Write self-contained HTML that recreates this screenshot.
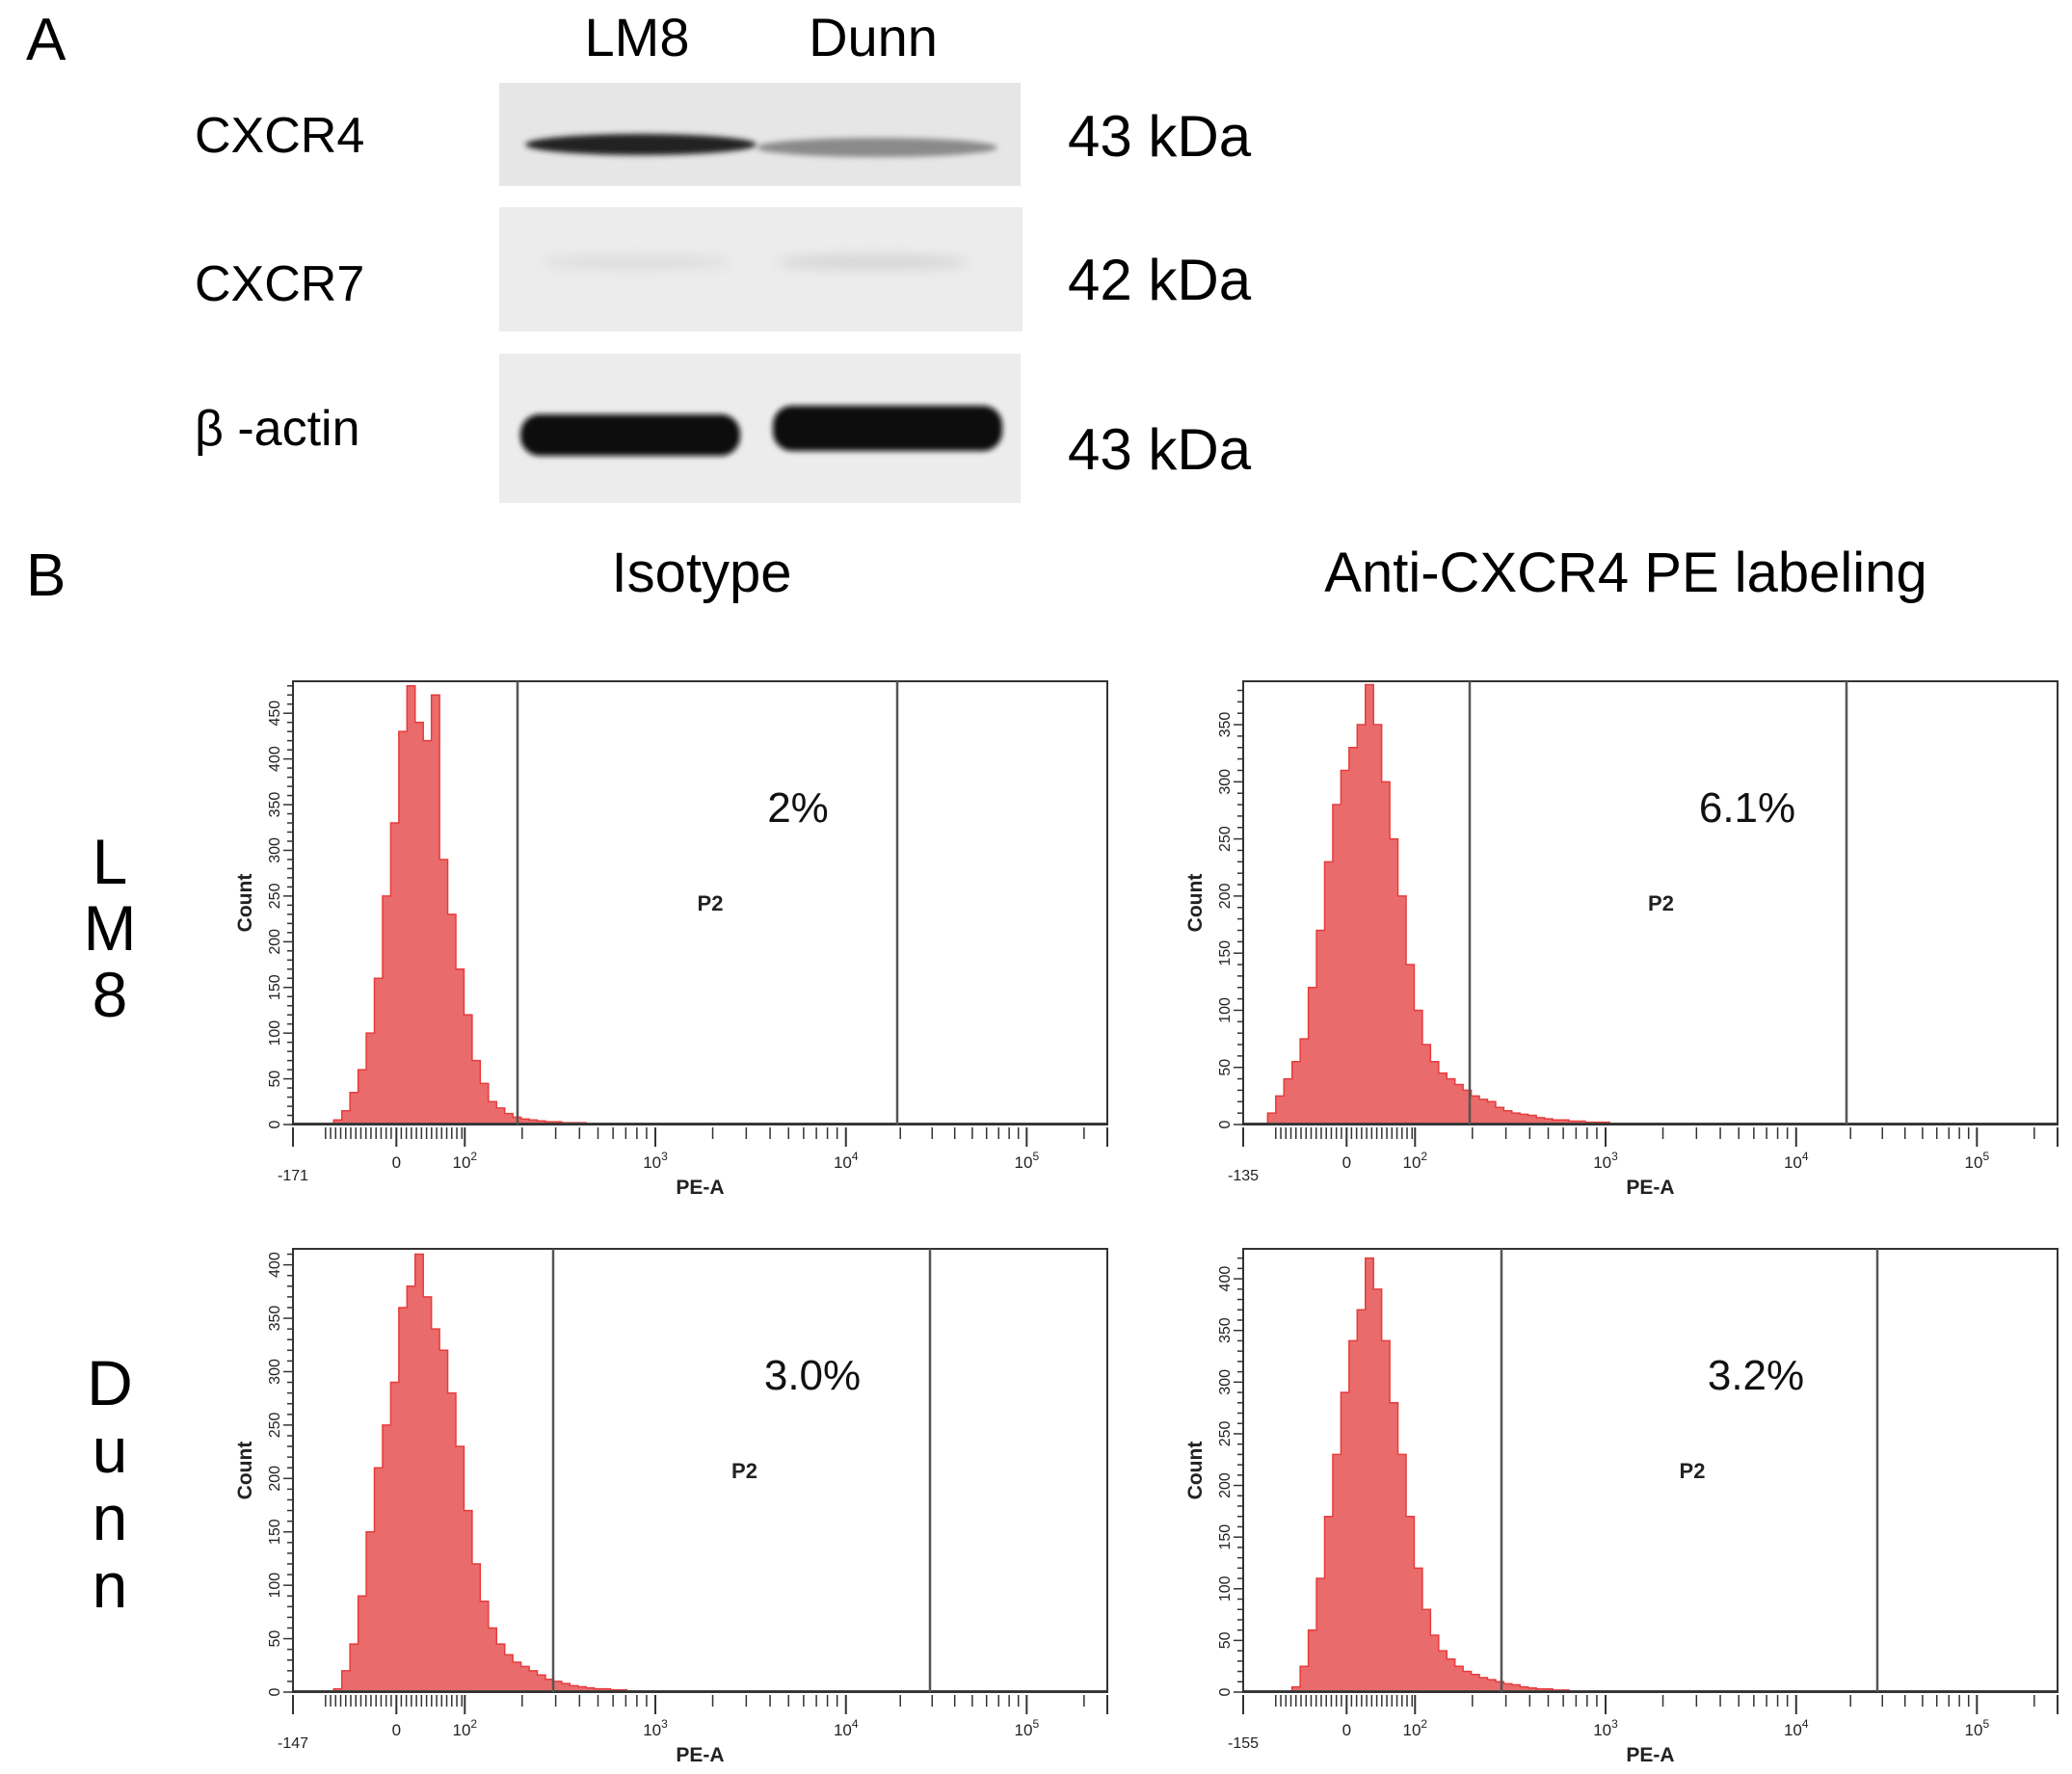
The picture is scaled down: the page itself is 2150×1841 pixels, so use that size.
<!DOCTYPE html>
<html><head><meta charset="utf-8">
<style>
html,body{margin:0;padding:0;background:#fff;}
svg{display:block;font-family:"Liberation Sans",sans-serif;}
</style></head>
<body>
<svg id="fig" width="2150" height="1841" viewBox="0 0 2150 1841" xmlns="http://www.w3.org/2000/svg">
<defs>
<filter id="blur3" x="-20%" y="-50%" width="140%" height="200%"><feGaussianBlur stdDeviation="3"/></filter>
<filter id="blur6" x="-20%" y="-80%" width="140%" height="260%"><feGaussianBlur stdDeviation="6"/></filter>
</defs>
<!-- Panel A -->
<text x="27" y="62" font-size="62">A</text>
<text x="661" y="58" font-size="56" text-anchor="middle">LM8</text>
<text x="906" y="58" font-size="56" text-anchor="middle">Dunn</text>

<text x="202" y="158" font-size="52">CXCR4</text>
<text x="202" y="312" font-size="52">CXCR7</text>
<text x="202" y="462" font-size="52">β -actin</text>

<text x="1108" y="162" font-size="60">43 kDa</text>
<text x="1108" y="311" font-size="60">42 kDa</text>
<text x="1108" y="487" font-size="60">43 kDa</text>

<g>
<rect x="518" y="86" width="541" height="107" fill="#e6e6e6"/>
<ellipse cx="665" cy="150" rx="120" ry="11" fill="#222" filter="url(#blur3)"/>
<ellipse cx="910" cy="153" rx="125" ry="10" fill="#8a8a8a" filter="url(#blur3)"/>
</g>
<g>
<rect x="518" y="215" width="543" height="129" fill="#ececec"/>
<ellipse cx="660" cy="272" rx="100" ry="8" fill="#dedede" filter="url(#blur6)"/>
<ellipse cx="905" cy="272" rx="100" ry="8" fill="#d6d6d6" filter="url(#blur6)"/>
</g>
<g>
<rect x="518" y="367" width="541" height="155" fill="#ececec"/>
<rect x="540" y="430" width="228" height="43" rx="20" fill="#080808" filter="url(#blur3)"/>
<rect x="802" y="421" width="238" height="47" rx="20" fill="#080808" filter="url(#blur3)"/>
</g>

<!-- Panel B -->
<text x="27" y="618" font-size="62">B</text>
<text x="728" y="614" font-size="58" text-anchor="middle">Isotype</text>
<text x="1687" y="614" font-size="58" text-anchor="middle">Anti-CXCR4 PE labeling</text>

<g font-size="66" text-anchor="middle">
<text x="114" y="917">L</text><text x="114" y="986">M</text><text x="114" y="1055">8</text>
</g>
<g font-size="66" text-anchor="middle">
<text x="114" y="1458">D</text><text x="114" y="1528">u</text><text x="114" y="1598">n</text><text x="114" y="1668">n</text>
</g>
<g id="panels"></g>
</svg>
<script>
// Histogram bin counts (100 bins across the display axis; bins not listed are zero)
const countsLM8Iso = [0,0,0,1,0,5,15,35,60,100,160,250,330,430,480,440,420,470,290,230,170,120,70,45,25,18,12,8,6,5,4,3,3,2,2,2,1,1,1,1,1,1,0,1,0,0,1,0,0,0];
const countsLM8Anti = [0,0,0,10,25,40,55,75,120,170,230,280,310,330,350,385,350,300,250,200,140,100,70,55,45,40,35,30,25,22,20,15,12,10,9,8,6,5,4,4,3,3,2,2,2,1,1,1,0,0];
const countsDunnIso = [0,0,0,0,0,3,20,45,90,150,210,250,290,360,380,410,370,340,320,280,230,170,120,85,60,45,35,28,24,20,16,12,10,8,6,5,4,3,3,2,2,1,1,1,1,0,0,0,0,0];
const countsDunnAnti = [0,0,0,0,0,0,5,25,60,110,170,230,290,340,370,420,390,340,280,230,170,120,80,55,40,32,25,20,17,14,12,10,8,7,5,4,3,3,2,2,1,1,1,0,0,0,0,0,0,0];
// Y axis domain maxima and tick labels
const yMaxes = [485, 388, 415, 429];
const yTicks1 = [0,50,100,150,200,250,300,350,400,450];
const yTicks2 = [0,50,100,150,200,250,300,350];
const yTicks3 = [0,50,100,150,200,250,300,350,400];
const yTicks4 = [0,50,100,150,200,250,300,350,400];
// X axis labels
const xTickLabels = ["0","10","10","10","10"];
const xTickExps = ["","2","3","4","5"];
const xMinLabels = ["-171","-135","-147","-155"];
const percents = ["2%","6.1%","3.0%","3.2%"];

const NS="http://www.w3.org/2000/svg";
const root=document.getElementById('panels');
function mk(tag,attrs,parent){const e=document.createElementNS(NS,tag);for(const k in attrs)e.setAttribute(k,attrs[k]);parent.appendChild(e);return e;}

const layout=[
 {x:304,y:707,gate:[537,931],pcx:828},
 {x:1290,y:707,gate:[1525,1916],pcx:1813},
 {x:304,y:1296,gate:[574,965],pcx:843},
 {x:1290,y:1296,gate:[1558,1948],pcx:1822}
];
const W=845,H=460,NB=100;
const allCounts=[countsLM8Iso,countsLM8Anti,countsDunnIso,countsDunnAnti];
const allTicks=[yTicks1,yTicks2,yTicks3,yTicks4];
const names=['lm8-isotype','lm8-anti-cxcr4','dunn-isotype','dunn-anti-cxcr4'];
const decadeFrac=[0.127,0.211,0.445,0.679,0.901];

layout.forEach((L,p)=>{
  const g=mk('g',{},root);
  
  
  const xS=i=>L.x+i/NB*W;
  const yS=c=>L.y+H-c/yMaxes[p]*H;
  const counts=allCounts[p];
  let d='M'+xS(0)+' '+yS(0);
  counts.forEach((c,i)=>{d+=' L'+xS(i)+' '+yS(c)+' L'+xS(i+1)+' '+yS(c);});
  d+=' L'+xS(counts.length)+' '+yS(0)+' Z';
  const h=mk('path',{d:d,fill:'#ea6b6b',stroke:'#e63c3c','stroke-width':1.5},g);
  
  
  mk('line',{x1:L.x,y1:L.y+H-1,x2:L.x+W,y2:L.y+H-1,stroke:'#444','stroke-width':2},g);
  const fr=mk('rect',{x:L.x,y:L.y,width:W,height:H,fill:'none',stroke:'#333','stroke-width':2},g);
  
  
  L.gate.forEach(gx=>{mk('line',{x1:gx,y1:L.y,x2:gx,y2:L.y+H,stroke:'#555','stroke-width':2.5},g);});
  const gate=mk('rect',{x:L.gate[0],y:L.y,width:L.gate[1]-L.gate[0],height:H,fill:'none',stroke:'none'},g);
  
  
  const p2=mk('text',{x:(L.gate[0]+L.gate[1])/2+3,y:L.y+238,'font-size':22,'font-weight':'bold','text-anchor':'middle',fill:'#222'},g);
  p2.textContent='P2';
  
  
  const pc=mk('text',{x:L.pcx,y:L.y+146,'font-size':44,'text-anchor':'middle',fill:'#111'},g);
  pc.textContent=percents[p];
  
  
  for(let v=0;v<=yMaxes[p];v+=10){
    const major=v%50===0;
    mk('line',{x1:L.x-(major?10:6),y1:yS(v),x2:L.x,y2:yS(v),stroke:'#333','stroke-width':1.5},g);
  }
  allTicks[p].forEach(v=>{
    const t=mk('text',{x:0,y:0,'font-size':16,'text-anchor':'middle',fill:'#222',transform:'translate('+(L.x-14)+','+yS(v)+') rotate(-90)'},g);
    t.textContent=v;
    
    
  });
  const yt=mk('text',{x:0,y:0,'font-size':21,'font-weight':'bold','text-anchor':'middle',fill:'#222',transform:'translate('+(L.x-43)+','+(L.y+230)+') rotate(-90)'},g);
  yt.textContent='Count';
  
  
  const by=L.y+H+3;
  for(let i=0;i<28;i++){const fx=0.04+i*0.0062;if(Math.abs(fx-0.127)<0.003)continue;mk('line',{x1:L.x+fx*W,y1:by,x2:L.x+fx*W,y2:by+12,stroke:'#333','stroke-width':1.5},g);}
  [0.445,0.679,0.901].forEach((f,k)=>{const prev=decadeFrac[k+1];
    [0.301,0.477,0.602,0.699,0.778,0.845,0.903,0.954].forEach(m=>{const fx=prev+m*(f-prev);mk('line',{x1:L.x+fx*W,y1:by,x2:L.x+fx*W,y2:by+12,stroke:'#333','stroke-width':1.5},g);});});
  [0.301,0.477,0.602,0.699,0.778].forEach(m=>{const fx=0.901+m*(0.234);if(fx<0.99)mk('line',{x1:L.x+fx*W,y1:by,x2:L.x+fx*W,y2:by+12,stroke:'#333','stroke-width':1.5},g);});
  decadeFrac.forEach((f,k)=>{mk('line',{x1:L.x+f*W,y1:by,x2:L.x+f*W,y2:by+20,stroke:'#333','stroke-width':2},g);
    const t=mk('text',{x:L.x+f*W,y:by+42,'font-size':17,'text-anchor':'middle',fill:'#222'},g);
    t.textContent=xTickLabels[k];
    if(xTickExps[k]){const s=mk('tspan',{dy:-8,'font-size':12},t);s.textContent=xTickExps[k];}
    
    });
  mk('line',{x1:L.x,y1:by,x2:L.x,y2:by+20,stroke:'#333','stroke-width':2},g);
  mk('line',{x1:L.x+W,y1:by,x2:L.x+W,y2:by+20,stroke:'#333','stroke-width':2},g);
  const mn=mk('text',{x:L.x,y:by+55,'font-size':16,'text-anchor':'middle',fill:'#222'},g);
  mn.textContent=xMinLabels[p];
  
  
  const xt=mk('text',{x:L.x+W*0.5,y:L.y+H+72,'font-size':21,'font-weight':'bold','text-anchor':'middle',fill:'#222'},g);
  xt.textContent='PE-A';
  
  
});
</script>
</body></html>
